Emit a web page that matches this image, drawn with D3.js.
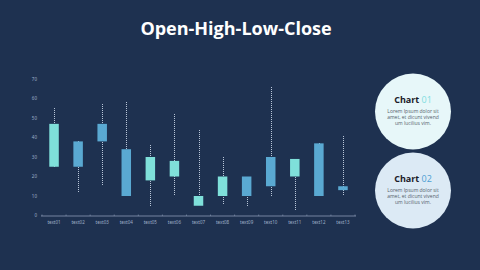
<!DOCTYPE html>
<html><head><meta charset="utf-8">
<script src="https://cdn.jsdelivr.net/npm/d3@7/dist/d3.min.js"></script>
<style>html,body{margin:0;padding:0;background:#1e3150;}svg{display:block;}</style>
</head><body>
<script>
const categories = ["text01","text02","text03","text04","text05","text06","text07","text08","text09","text10","text11","text12","text13"];
const openVals  = [25, 38, 47, 34, 18, 20, 5, 10, 20, 30, 20, 37, 15];
const highVals  = [55, 38, 57, 58, 36, 52, 44, 30, 20, 66, 29, 37, 41];
const lowVals   = [25, 12, 15, 10, 5, 10, 5, 6, 5, 10, 3, 10, 10];
const closeVals = [47, 25, 38, 10, 30, 28, 10, 20, 10, 15, 29, 10, 13];
const yTicks = [0,10,20,30,40,50,60,70];

const W=480,H=270;
const svg=d3.select("body").append("svg").attr("width",W).attr("height",H);
svg.append("rect").attr("width",W).attr("height",H).attr("fill","#1e3150");

svg.append("text").attr("x",236).attr("y",34.5).attr("text-anchor","middle")
  .attr("font-family","'Open Sans','Noto Sans',sans-serif").attr("font-weight","bold")
  .attr("font-size",18).attr("fill","#ffffff").text("Open-High-Low-Close");

const x=d3.scaleBand().domain(categories).range([42,355]).paddingInner(0).paddingOuter(0);
const y=d3.scaleLinear().domain([0,70]).range([215.5,79]);

// y labels
svg.append("g").selectAll("text").data(yTicks).join("text")
  .attr("x",37).attr("y",d=>y(d)).attr("dy","0.35em").attr("text-anchor","end")
  .attr("font-family","'Noto Sans',sans-serif").attr("font-size",4.5).attr("fill","#9fb0c8").text(d=>d);

// x axis
const xa=svg.append("g").attr("transform","translate(0,216)");
xa.append("line").attr("x1",41).attr("x2",356).attr("y1",0).attr("y2",0).attr("stroke","#8a9ab5").attr("stroke-width",0.8);
const bounds=categories.map(c=>x(c)).concat([x(categories[categories.length-1])+x.bandwidth()]);
xa.selectAll("line.t").data(bounds).join("line").attr("class","t")
  .attr("x1",d=>d).attr("x2",d=>d).attr("y1",-1.5).attr("y2",0).attr("stroke","#8a9ab5").attr("stroke-width",0.6);
xa.selectAll("text").data(categories).join("text")
  .attr("x",d=>x(d)+x.bandwidth()/2).attr("y",8).attr("text-anchor","middle")
  .attr("font-family","'Noto Sans',sans-serif").attr("font-size",4.5).attr("fill","#9fb0c8").text(d=>d);

const data=categories.map((c,i)=>({c,o:openVals[i],h:highVals[i],l:lowVals[i],cl:closeVals[i]}));
const bw=9.5;
const g=svg.append("g");
g.selectAll("line.w").data(data).join("line").attr("class","w")
  .attr("x1",d=>Math.round(x(d.c)+x.bandwidth()/2)+0.5).attr("x2",d=>Math.round(x(d.c)+x.bandwidth()/2)+0.5)
  .attr("y1",d=>Math.round(y(d.h))).attr("y2",d=>Math.round(y(d.l)))
  .attr("stroke","#b9c6d8").attr("stroke-width",1).attr("stroke-dasharray","1,1");
g.selectAll("rect").data(data).join("rect")
  .attr("x",d=>x(d.c)+x.bandwidth()/2-bw/2).attr("width",bw)
  .attr("y",d=>y(Math.max(d.o,d.cl))).attr("height",d=>Math.abs(y(d.o)-y(d.cl)))
  .attr("fill",d=>d.cl>=d.o?"#7fe0da":"#5aa9d2");

// circles
const cards=[{cy:111.5,fill:"#e7f7f9",label:"01",col:"#7fdde0"},{cy:190.5,fill:"#dceaf5",label:"02",col:"#4d9fd3"}];
const body=["Lorem Ipsum dolor sit","amet, et dicunt vivend","um lucilius vim."];
cards.forEach(cd=>{
  const cg=svg.append("g");
  cg.append("circle").attr("cx",413).attr("cy",cd.cy).attr("r",38).attr("fill",cd.fill);
  const t=cg.append("text").attr("x",413).attr("y",cd.cy-9).attr("text-anchor","middle")
    .attr("font-family","'Open Sans','Noto Sans',sans-serif").attr("font-weight","bold").attr("font-size",9);
  t.append("tspan").attr("fill","#1b1b2a").text("Chart ");
  t.append("tspan").attr("fill",cd.col).attr("font-weight","normal").text(cd.label);
  body.forEach((s,i)=>{
    cg.append("text").attr("x",413).attr("y",cd.cy+1.5+i*6).attr("text-anchor","middle")
      .attr("font-family","'Open Sans','Noto Sans',sans-serif").attr("font-size",5).attr("fill","#555e6a").text(s);
  });
});
</script>
</body></html>
